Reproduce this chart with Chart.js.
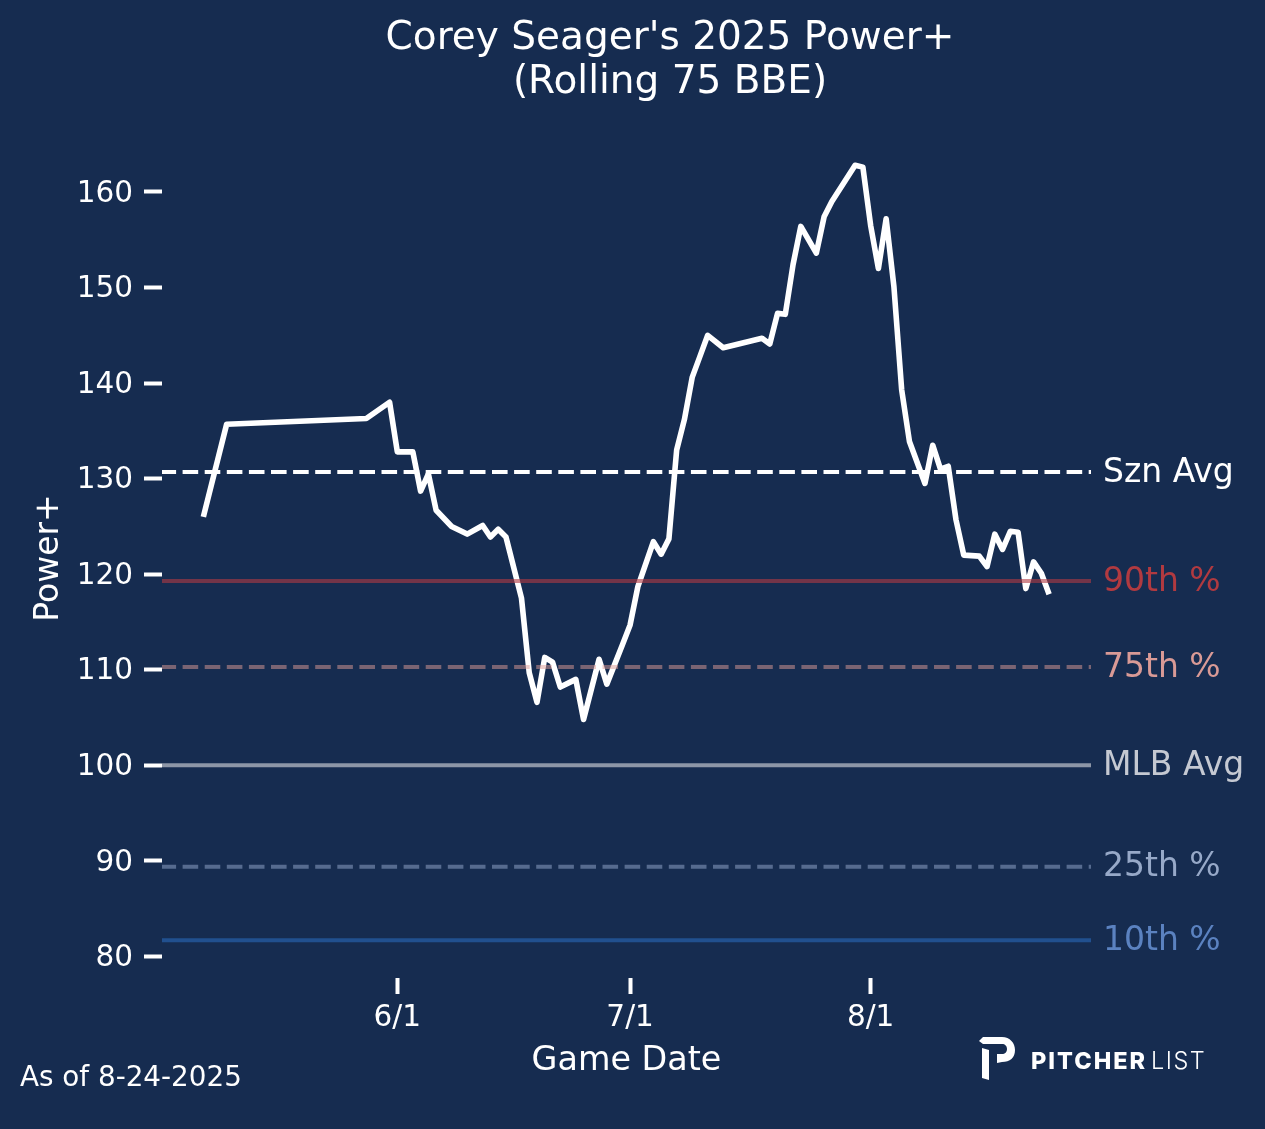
<!DOCTYPE html>
<html>
<head>
<meta charset="utf-8">
<title>Corey Seager Power+</title>
<script src="https://cdn.jsdelivr.net/npm/chart.js@4"></script>
<style>
  html, body { margin: 0; padding: 0; background: #162c50; }
  canvas { display: block; }
</style>
</head>
<body>
<canvas id="grafico" width="1265" height="1129"></canvas>
<script>
// days counted from June 1st, one entry per game
const gameDays = [-25, -22, -4, -1, 0, 2, 3, 4, 5, 7, 9, 11, 12, 13, 14, 16, 17, 18, 19, 20, 21,
  23, 24, 26, 27, 29, 30, 31, 33, 34, 35, 36, 37, 38, 39, 40, 42, 47, 48, 49, 50, 51, 52, 54, 55,
  56, 59, 60, 61, 62, 63, 64, 65, 66, 68, 69, 70, 71, 72, 73, 75, 76, 77, 78, 79, 80, 81, 82, 83, 84];
const powerPlus = [126.0, 135.7, 136.3, 138.0, 132.8, 132.8, 128.7, 130.5, 126.7, 125.0, 124.2, 125.1,
  123.9, 124.7, 123.9, 117.5, 109.7, 106.6, 111.3, 110.8, 108.2, 109.0, 104.8, 111.1, 108.5, 112.6,
  114.7, 118.7, 123.4, 122.1, 123.7, 133.0, 136.2, 140.6, 142.8, 145.0, 143.7, 144.7, 144.1, 147.3,
  147.2, 152.4, 156.4, 153.6, 157.4, 159.0, 162.8, 162.6, 156.5, 152.0, 157.2, 150.1, 139.3, 133.9,
  129.5, 133.5, 131.0, 131.3, 125.7, 122.0, 121.9, 120.8, 124.2, 122.6, 124.5, 124.4, 118.5, 121.3,
  120.1, 117.9];

const refNames = ['Szn Avg', '90th %', '75th %', 'MLB Avg', '25th %', '10th %'];
const refValues = [130.7, 119.3, 110.3, 100, 89.4, 81.7];

const yTicks = [80, 90, 100, 110, 120, 130, 140, 150, 160];
const xTicks = [0, 30, 61];
const xTickLabels = ['6/1', '7/1', '8/1'];

const titleLines = ["Corey Seager's 2025 Power+", '(Rolling 75 BBE)'];
const asOfText = 'As of 8-24-2025';

const DASH = [15.6, 6.5];
const refStyles = {
  'Szn Avg': { line: '#ffffff', text: '#ffffff', dash: DASH },
  '90th %': { line: 'rgba(178, 58, 66, 0.6)', text: '#b13a40', dash: [] },
  '75th %': { line: 'rgba(222, 155, 150, 0.5)', text: '#d99a96', dash: DASH },
  'MLB Avg': { line: 'rgba(197, 201, 210, 0.68)', text: '#c5c9d2', dash: [] },
  '25th %': { line: 'rgba(150, 170, 205, 0.5)', text: '#97a9c8', dash: DASH },
  '10th %': { line: '#21508f', text: '#5b82c0', dash: [] }
};

const FONT = '"DejaVu Sans", sans-serif';
const X_MIN = -30.33, X_MAX = 89.4;
const Y_MIN = 77.75, Y_MAX = 165.65;

// title, right hand labels, footer and logo
const textos = {
  id: 'textos',
  beforeDraw(chart) {
    // y labels sit a little under the middle of their tick
    const y = chart.scales.y;
    y.getLabelItems(chart.chartArea).forEach((item, i) => {
      item.options.translation[1] = y.getPixelForTick(i) + 2;
    });
  },
  afterDraw(chart) {
    const { ctx, scales } = chart;
    ctx.save();
    ctx.fillStyle = '#ffffff';
    ctx.textBaseline = 'middle';

    ctx.textAlign = 'center';
    ctx.font = '39px ' + FONT;
    ctx.fillText(titleLines[0], 670, 39);
    ctx.fillText(titleLines[1], 670, 83);

    ctx.textAlign = 'left';
    ctx.font = '33px ' + FONT;
    refNames.forEach((name, i) => {
      ctx.fillStyle = refStyles[name].text;
      ctx.fillText(name, 1103, scales.y.getPixelForValue(refValues[i]) + 1);
    });

    ctx.fillStyle = '#ffffff';
    ctx.font = '27.8px ' + FONT;
    ctx.fillText(asOfText, 20, 1079);

    // P mark
    const p = new Path2D('M979 1041 L983 1037 L1002 1037 C1010 1037 1015 1043 1015 1050 C1015 1058 1010 1062 1002 1062 ' +
      'L997 1063 L997 1054 L1002 1054 C1005 1054 1007 1052 1007 1049 C1007 1046 1005 1044 1002 1044 L983 1044 Z ' +
      'M982 1048 L989 1050 L989 1080 L982 1078 Z');
    ctx.fill(p);

    ctx.textBaseline = 'alphabetic';
    ctx.font = '800 23.5px Inter, sans-serif';
    ctx.letterSpacing = '2px';
    ctx.fillText('PITCHER', 1031, 1069);
    ctx.font = '300 23.5px Inter, sans-serif';
    ctx.letterSpacing = '1.5px';
    ctx.fillText('LIST', 1151, 1069);
    ctx.restore();
  }
};

const refDatasets = refNames.map((name, i) => ({
  label: name,
  data: [{ x: X_MIN, y: refValues[i] }, { x: X_MAX, y: refValues[i] }],
  borderColor: refStyles[name].line,
  borderDash: refStyles[name].dash,
  borderDashOffset: 1.5,
  borderWidth: 4,
  pointRadius: 0,
  order: 1
}));

new Chart(document.getElementById('grafico').getContext('2d'), {
  type: 'line',
  data: {
    datasets: [
      {
        label: 'Power+',
        data: gameDays.map((d, i) => ({ x: d, y: powerPlus[i] })),
        borderColor: '#ffffff',
        borderWidth: 5.6,
        borderJoinStyle: 'round',
        pointRadius: 0,
        tension: 0,
        order: 2
      },
      ...refDatasets
    ]
  },
  options: {
    responsive: false,
    animation: false,
    layout: { padding: { top: 138, right: 174, left: 0, bottom: 0 } },
    plugins: { legend: { display: false }, tooltip: { enabled: false }, title: { display: false } },
    scales: {
      x: {
        type: 'linear',
        min: X_MIN,
        max: X_MAX,
        afterBuildTicks: s => { s.ticks = xTicks.map(v => ({ value: v })); },
        afterFit: s => { s.height = 151; },
        grid: { drawOnChartArea: false, drawTicks: true, tickLength: 16, tickWidth: 4, tickColor: '#ffffff' },
        border: { display: false },
        ticks: {
          color: '#ffffff',
          padding: 7,
          maxRotation: 0,
          font: { family: FONT, size: 29.5 },
          callback: v => xTickLabels[xTicks.indexOf(v)]
        },
        title: {
          display: true,
          text: 'Game Date',
          color: '#ffffff',
          font: { family: FONT, size: 33.4 },
          padding: { top: 0, bottom: 48 }
        }
      },
      y: {
        min: Y_MIN,
        max: Y_MAX,
        afterBuildTicks: s => { s.ticks = yTicks.map(v => ({ value: v })); },
        afterFit: s => { s.width = 162; },
        grid: { drawOnChartArea: false, drawTicks: true, tickLength: 18, tickWidth: 4, tickColor: '#ffffff' },
        border: { display: false },
        ticks: { color: '#ffffff', padding: 11, font: { family: FONT, size: 29.5 } },
        title: {
          display: true,
          text: 'Power+',
          color: '#ffffff',
          font: { family: FONT, size: 33 },
          padding: { top: 30, bottom: 0 }
        }
      }
    }
  },
  plugins: [textos]
});
</script>
</body>
</html>
